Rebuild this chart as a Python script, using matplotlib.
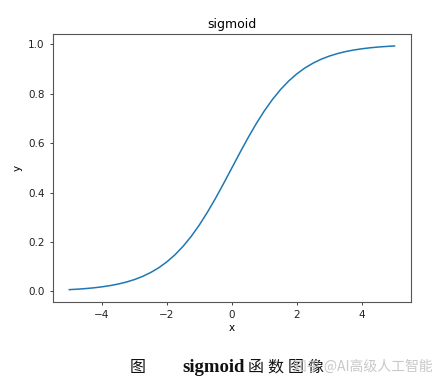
import matplotlib
matplotlib.use("Agg")
import matplotlib.pyplot as plt

# values, x step 0.25
x_vals = [-5.0, -4.75, -4.5, -4.25, -4.0, -3.75, -3.5, -3.25, -3.0, -2.75, -2.5,
          -2.25, -2.0, -1.75, -1.5, -1.25, -1.0, -0.75, -0.5, -0.25, 0.0,
          0.25, 0.5, 0.75, 1.0, 1.25, 1.5, 1.75, 2.0, 2.25, 2.5,
          2.75, 3.0, 3.25, 3.5, 3.75, 4.0, 4.25, 4.5, 4.75, 5.0]
y_vals = [0.0067, 0.0086, 0.0110, 0.0140, 0.0180, 0.0230, 0.0293, 0.0373, 0.0474, 0.0601, 0.0759,
          0.0953, 0.1192, 0.1480, 0.1824, 0.2227, 0.2689, 0.3208, 0.3775, 0.4378, 0.5000,
          0.5622, 0.6225, 0.6792, 0.7311, 0.7773, 0.8176, 0.8520, 0.8808, 0.9047, 0.9241,
          0.9399, 0.9526, 0.9627, 0.9707, 0.9770, 0.9820, 0.9860, 0.9890, 0.9914, 0.9933]
x_ticks = [-4, -2, 0, 2, 4]
y_ticks = [0.0, 0.2, 0.4, 0.6, 0.8, 1.0]
caption_cn = ["函", "数", "图", "像"]

fig = plt.figure(figsize=(4.46, 3.84), dpi=100)
ax = fig.add_axes([0.119, 0.214, 0.802, 0.698])
ax.plot(x_vals, y_vals, color="#1f77b4", linewidth=1.1)
ax.set_xticks(x_ticks)
ax.set_yticks(y_ticks)
ax.tick_params(labelsize=7.5, length=2.5, width=0.6, colors="#222222")
for s in ax.spines.values():
    s.set_color("#555555")
    s.set_linewidth(0.8)
ax.set_title("sigmoid", fontsize=9, pad=4)
ax.set_xlabel("x", fontsize=7.5, labelpad=2)
ax.set_ylabel("y", fontsize=7.5, labelpad=4)

# caption under the figure
cap_y = 0.044
fig.text(0.309, cap_y, "图", fontsize=11.5, family=["Noto Sans CJK SC"],
         ha="center", va="center", color="#111111")
fig.text(0.408, cap_y, "sigmoid", fontsize=13.5, family=["Liberation Serif"],
         fontweight="bold", ha="left", va="center", color="#111111")
for i, ch in enumerate(caption_cn):
    fig.text((256 + 19.7 * i) / 446, cap_y, ch, fontsize=11.5,
             family=["Noto Sans CJK SC"], ha="center", va="center", color="#111111")
# watermark, drawn over the end of the caption like in the source
fig.text(0.658, 0.046, "知乎 @AI高级人工智能", fontsize=10,
         family=["Noto Sans CJK SC", "DejaVu Sans"], ha="left", va="center",
         color="#c8c8c8")

fig.savefig("out.png", dpi=100)
